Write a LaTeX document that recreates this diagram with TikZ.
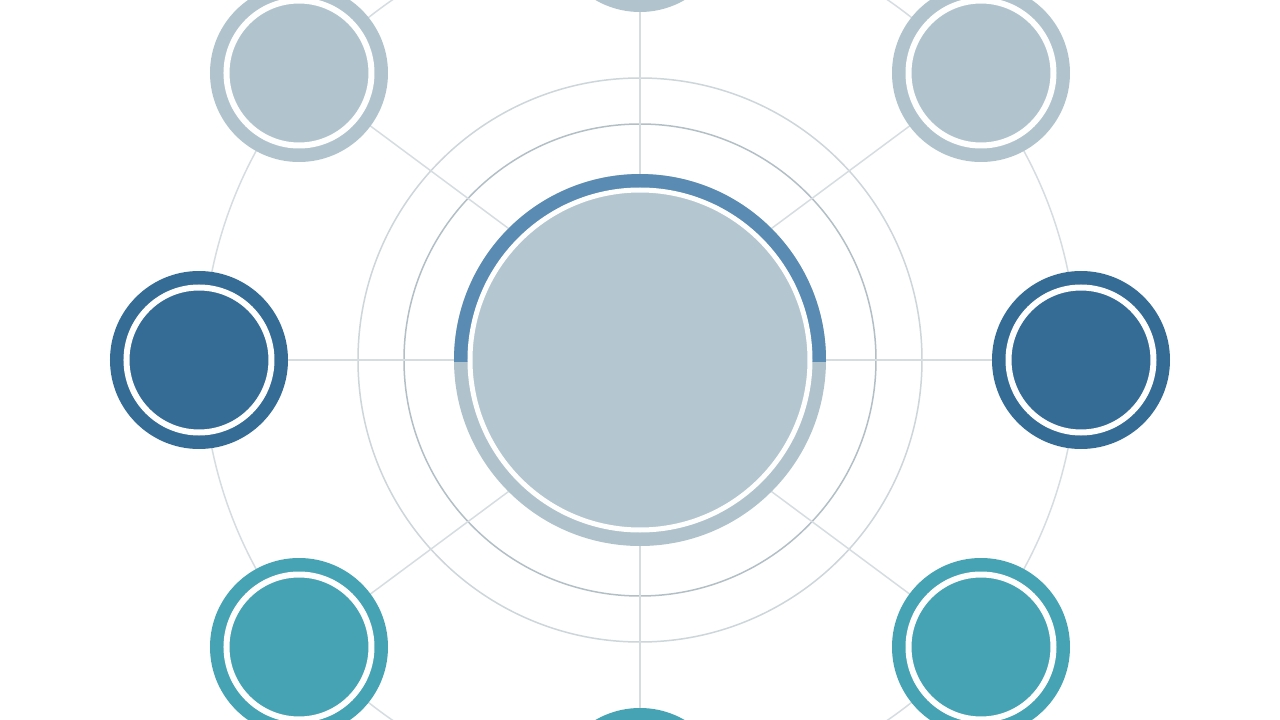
\documentclass[tikz,border=0pt]{standalone}
\usetikzlibrary{calc}
\definecolor{satgrey}{HTML}{B1C4CE}
\definecolor{satblue}{HTML}{346C95}
\definecolor{satteal}{HTML}{45A3B3}
\definecolor{cfill}{HTML}{B4C6D0}
\definecolor{ringblue}{HTML}{5A8BB2}
\definecolor{ringgrey}{HTML}{B0C2CC}
\definecolor{thinline}{HTML}{D6DDE1}
\definecolor{innerorbit}{HTML}{B3BFC6}
\definecolor{outerorbit}{HTML}{CDD6DA}
\tikzset{
  sat/.style={circle, minimum size=178pt, inner sep=0pt, fill=#1},
  satring/.style={draw=white, line width=6pt},
  link/.style={draw=thinline, line width=1.5pt},
}
\begin{document}
\begin{tikzpicture}[x=1pt,y=1pt]
\useasboundingbox (-640,-360) rectangle (640,360);
\clip (-640,-360) rectangle (640,360);
\fill[white] (-640,-360) rectangle (640,360);
% orbits
\draw[link] (0,0) circle (437);
\draw[draw=outerorbit, line width=1.5pt] (0,0) circle (282);
\draw[draw=innerorbit, line width=1.5pt] (0,0) circle (236);
% central node (placed first for anchors)
\coordinate (o) at (0,0);
\path (0,0) node[circle, minimum size=372pt, inner sep=0pt] (c) {};
% satellites positions
\coordinate (p1) at (0,437);
\coordinate (p2) at (341,287);
\coordinate (p3) at (441,0);
\coordinate (p4) at (341,-287);
\coordinate (p5) at (0,-437);
\coordinate (p6) at (-341,-287);
\coordinate (p7) at (-441,0);
\coordinate (p8) at (-341,287);
% connectors
\draw[link] (p1) -- (o);
\draw[link] (p3) -- (o);
\draw[link] (p5) -- (o);
\draw[link] (p7) -- (o);
\draw[link] (p2) -- (c.45);
\draw[link] (p4) -- (c.-45);
\draw[link] (p6) -- (c.225);
\draw[link] (p8) -- (c.135);
% satellites
\foreach \p/\col/\n in {p1/satgrey/s1, p2/satgrey/s2, p8/satgrey/s8,
                        p3/satblue/s3, p7/satblue/s7,
                        p4/satteal/s4, p5/satteal/s5, p6/satteal/s6}{
  \node[sat=\col] (\n) at (\p) {};
  \draw[satring] (\p) circle (72.5);
}
% central circle
\fill[ringgrey] (0,0) circle (186);
\fill[ringblue] (186,-2) arc (-0.6:180.6:186) -- cycle;
\node[circle, minimum size=340pt, inner sep=0pt, fill=cfill, draw=white, line width=5pt] (ci) at (0,0) {};
\end{tikzpicture}
\end{document}
